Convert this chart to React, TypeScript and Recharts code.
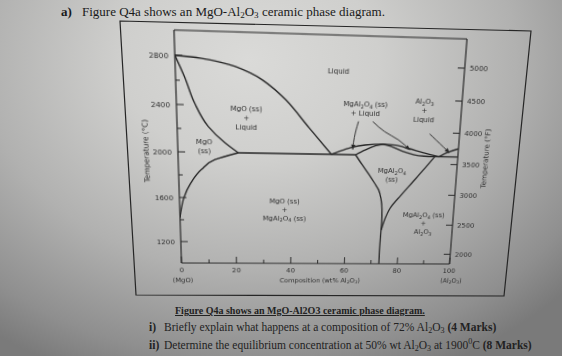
import React from 'react';
import { ComposedChart, Line, Scatter, XAxis, YAxis } from 'recharts';

type P = { x: number; y: number };

// ---------- axis values ----------
const compTicks = [0, 10, 20, 30, 40, 50, 60, 70, 80, 90, 100];
const compLabels = [0, 20, 40, 60, 80, 100];
const molTicks = [21.9, 38.7, 52.0, 62.8, 71.7, 79.1, 85.5, 91.0, 95.8];
const tempCTicks = [1200, 1400, 1600, 1800, 2000, 2200, 2400, 2600, 2800];
const tempCLabels = [1200, 1600, 2000, 2400, 2800];
const tempFTicks = [2000, 2500, 3000, 3500, 4000, 4500, 5000];

// ---------- phase boundaries (wt% Al2O3, °C) ----------
const mgoLiquidus: P[] = [
  { x: 0, y: 2800 }, { x: 8.9, y: 2782 }, { x: 20.3, y: 2722 }, { x: 29.5, y: 2619 },
  { x: 37.6, y: 2458 }, { x: 46, y: 2223 }, { x: 54, y: 2000 },
];
const mgoSolidus: P[] = [
  { x: 0, y: 2800 }, { x: 3, y: 2631 }, { x: 6.2, y: 2415 }, { x: 10.7, y: 2221 },
  { x: 16.5, y: 2082 }, { x: 21, y: 2000 },
];
const mgoSolvus: P[] = [
  { x: 21, y: 2000 }, { x: 12.8, y: 1937 }, { x: 8, y: 1849 }, { x: 4.2, y: 1731 },
  { x: 1.6, y: 1599 }, { x: 0.3, y: 1464 }, { x: 0, y: 1420 },
];
const leftEutectic: P[] = [{ x: 21, y: 2000 }, { x: 62.7, y: 2000 }];
const spinelLiquidus: P[] = [
  { x: 54, y: 2000 }, { x: 58, y: 2038 }, { x: 61.5, y: 2066 }, { x: 66, y: 2087 },
  { x: 72.5, y: 2097 }, { x: 77, y: 2090 }, { x: 81.8, y: 2063 }, { x: 87, y: 2030 },
  { x: 93, y: 1995 },
];
const spinelSolidus: P[] = [
  { x: 62.7, y: 2000 }, { x: 66, y: 2042 }, { x: 69.5, y: 2080 }, { x: 72.5, y: 2096 },
  { x: 76, y: 2072 }, { x: 80.5, y: 2032 }, { x: 84, y: 2008 }, { x: 87.5, y: 1998 },
  { x: 91.5, y: 1995 },
];
const rightEutectic: P[] = [{ x: 91.5, y: 1995 }, { x: 100, y: 1995 }];
const aluminaLiquidus: P[] = [{ x: 93, y: 1995 }, { x: 96.3, y: 2036 }, { x: 100, y: 2068 }];
const spinelLeftSolvus: P[] = [
  { x: 62.7, y: 2000 }, { x: 65, y: 1920 }, { x: 67.9, y: 1825 }, { x: 70, y: 1750 },
  { x: 71.6, y: 1690 }, { x: 72.7, y: 1600 }, { x: 73.2, y: 1510 }, { x: 73.3, y: 1400 },
  { x: 73.1, y: 1230 }, { x: 73, y: 1000 },
];
const spinelRightSolvus: P[] = [
  { x: 91.5, y: 1995 }, { x: 87.5, y: 1870 }, { x: 84, y: 1765 }, { x: 80, y: 1645 },
  { x: 76.2, y: 1524 }, { x: 74.4, y: 1420 }, { x: 73.3, y: 1320 },
];

// ---------- annotation arrows ----------
const arrow1: P[] = [{ x: 63.3, y: 2290 }, { x: 62.4, y: 2200 }, { x: 61.8, y: 2110 }, { x: 61.6, y: 2045 }];
const arrow2: P[] = [{ x: 68.4, y: 2291 }, { x: 72.8, y: 2206 }, { x: 77.9, y: 2137 }, { x: 82.3, y: 2050 }];
const arrow3: P[] = [{ x: 89.1, y: 2194 }, { x: 91.6, y: 2141 }, { x: 94.5, y: 2080 }, { x: 96.8, y: 2030 }];

// ---------- region labels ----------
const regionLabels = [
  { x: 55.7, y: 2710, lines: ['Liquid'] },
  { x: 23.9, y: 2300, lines: ['MgO (ss)', '+', 'Liquid'] },
  { x: 9.2, y: 2055, lines: ['MgO', '(ss)'] },
  { x: 65.6, y: 2398, lines: ['MgAl_2O_4 (ss)', '+ Liquid'] },
  { x: 86.6, y: 2395, lines: ['Al_2O_3', '+', 'Liquid'] },
  { x: 76.2, y: 1825, lines: ['MgAl_2O_4', '(ss)'] },
  { x: 37.5, y: 1505, lines: ['MgO (ss)', '+', 'MgAl_2O_4 (ss)'] },
  { x: 88.9, y: 1385, lines: ['MgAl_2O_4 (ss)', '+', 'Al_2O_3'] },
];

// ---------- layout ----------
const W = 562, H = 356;
const PL = 177, PR = 458, PT = 34, PB = 264;
const PW = PR - PL, PH = PB - PT;
const T_MIN = 1000, T_MAX = 3000;
const INK = '#262626';
const TXT = '#2d2d2d';
const FONT = '"DejaVu Sans", "Liberation Sans", sans-serif';
const SERIF = '"Liberation Serif", "DejaVu Serif", serif';

function solveHomography(src: number[][], dst: number[][]) {
  const A: number[][] = [];
  const b: number[] = [];
  for (let i = 0; i < 4; i++) {
    const [x, y] = src[i];
    const [u, v] = dst[i];
    A.push([x, y, 1, 0, 0, 0, -x * u, -y * u]); b.push(u);
    A.push([0, 0, 0, x, y, 1, -x * v, -y * v]); b.push(v);
  }
  const n = 8;
  for (let c = 0; c < n; c++) {
    let p = c;
    for (let r = c + 1; r < n; r++) if (Math.abs(A[r][c]) > Math.abs(A[p][c])) p = r;
    [A[c], A[p]] = [A[p], A[c]];
    [b[c], b[p]] = [b[p], b[c]];
    for (let r = 0; r < n; r++) {
      if (r === c) continue;
      const f = A[r][c] / A[c][c];
      for (let k = c; k < n; k++) A[r][k] -= f * A[c][k];
      b[r] -= f * b[c];
    }
  }
  return b.map((v, i) => v / A[i][i]);
}

const h = solveHomography(
  [[PL, PT], [PR, PT], [PR, PB], [PL, PB]],
  [[174, 30], [467, 39], [449.5, 264], [181.5, 263]],
);
const MATRIX = `matrix3d(${h[0]},${h[3]},0,${h[6]},${h[1]},${h[4]},0,${h[7]},0,0,1,0,${h[2]},${h[5]},0,1)`;

function Chem({ text, x, y, fs, anchor = 'middle' }: { text: string; x: number; y: number; fs: number; anchor?: string }) {
  const parts = text.split(/(_\d)/).filter(Boolean);
  let shifted = false;
  const spans: React.ReactNode[] = [];
  parts.forEach((p, i) => {
    if (p.startsWith('_')) {
      spans.push(<tspan key={i} dy={fs * 0.32} fontSize={fs * 0.72}>{p.slice(1)}</tspan>);
      shifted = true;
    } else {
      spans.push(<tspan key={i} dy={shifted ? -fs * 0.32 : 0}>{p}</tspan>);
      shifted = false;
    }
  });
  return (
    <text x={x} y={y} textAnchor={anchor as any} dominantBaseline="central" fontSize={fs} fontFamily={FONT} fill={TXT}>
      {spans}
    </text>
  );
}

const RegionLabel = (props: any) => {
  const { cx, cy, payload } = props;
  const lines: string[] = payload.lines;
  const lh = 9;
  const start = cy - ((lines.length - 1) * lh) / 2;
  return (
    <g>
      {lines.map((l, i) => (
        <Chem key={i} text={l} x={cx} y={start + i * lh} fs={7} />
      ))}
    </g>
  );
};

const LeftTick = (props: any) => {
  const { x, y, payload } = props;
  const v = payload.value;
  const major = tempCLabels.includes(v);
  return (
    <g>
      <line x1={x} y1={y} x2={x + (major ? 7 : 4)} y2={y} stroke={INK} strokeWidth={1} />
      {major && (
        <text x={x - 6} y={y} textAnchor="end" dominantBaseline="central" fontSize={7.2} fontFamily={FONT} fill={TXT}>
          {v}
        </text>
      )}
    </g>
  );
};

const RightTick = (props: any) => {
  const { x, y, payload } = props;
  return (
    <g>
      <line x1={x} y1={y} x2={x - 7} y2={y} stroke={INK} strokeWidth={1} />
      <text x={x + 5} y={y} textAnchor="start" dominantBaseline="central" fontSize={7.2} fontFamily={FONT} fill={TXT}>
        {payload.value}
      </text>
    </g>
  );
};

const BottomTick = (props: any) => {
  const { x, y, payload } = props;
  const v = payload.value;
  const major = compLabels.includes(v);
  return (
    <g>
      <line x1={x} y1={y} x2={x} y2={y - (major ? 7 : 4)} stroke={INK} strokeWidth={1} />
      {major && (
        <text x={x} y={y + 7} textAnchor="middle" dominantBaseline="central" fontSize={7.2} fontFamily={FONT} fill={TXT}>
          {v}
        </text>
      )}
      {v === 0 && <Chem text="(MgO)" x={x + 1} y={y + 18.5} fs={6.8} />}
      {v === 100 && <Chem text="(Al_2O_3)" x={x + 3} y={y + 18.5} fs={6.8} />}
    </g>
  );
};

const TopTick = (props: any) => {
  const { x, y } = props;
  return <line x1={x} y1={y} x2={x} y2={y + 6} stroke={INK} strokeWidth={1} />;
};

const LeftTitle = () => (
  <text
    x={PL - 31}
    y={PT + PH / 2}
    transform={`rotate(-90 ${PL - 31} ${PT + PH / 2})`}
    textAnchor="middle"
    dominantBaseline="central"
    fontSize={7.2}
    fontFamily={FONT}
    fill={TXT}
  >
    Temperature (°C)
  </text>
);

const RightTitle = () => (
  <text
    x={PR + 29}
    y={PT + PH / 2 + 2}
    transform={`rotate(-90 ${PR + 29} ${PT + PH / 2 + 2})`}
    textAnchor="middle"
    dominantBaseline="central"
    fontSize={7.2}
    fontFamily={FONT}
    fill={TXT}
  >
    Temperature (°F)
  </text>
);

const BottomTitle = () => <Chem text="Composition (wt% Al_2O_3)" x={(PL + PR) / 2 + 3} y={PB + 18.5} fs={6.8} />;

function arrowDot(data: P[]) {
  return (p: any) => {
    if (p.index !== data.length - 1) return <g key={`d${p.index}`} />;
    const prev = data[data.length - 2];
    const last = data[data.length - 1];
    const dx = ((last.x - prev.x) * PW) / 100;
    const dy = (-(last.y - prev.y) * PH) / (T_MAX - T_MIN);
    const a = Math.atan2(dy, dx);
    const L = 5, Wd = 2.2;
    const bx = p.cx - L * Math.cos(a), by = p.cy - L * Math.sin(a);
    const nx = -Math.sin(a) * Wd, ny = Math.cos(a) * Wd;
    return (
      <polygon
        key={`d${p.index}`}
        points={`${p.cx},${p.cy} ${bx + nx},${by + ny} ${bx - nx},${by - ny}`}
        fill={INK}
        stroke="none"
      />
    );
  };
}

const curves: { data: P[]; type: any }[] = [
  { data: mgoLiquidus, type: 'monotoneX' },
  { data: mgoSolidus, type: 'monotoneY' },
  { data: mgoSolvus, type: 'monotoneY' },
  { data: leftEutectic, type: 'linear' },
  { data: spinelLiquidus, type: 'monotoneX' },
  { data: spinelSolidus, type: 'monotoneX' },
  { data: rightEutectic, type: 'linear' },
  { data: aluminaLiquidus, type: 'monotoneX' },
  { data: spinelLeftSolvus, type: 'monotoneY' },
  { data: spinelRightSolvus, type: 'monotoneY' },
];
const arrows = [arrow1, arrow2, arrow3];

const sub = { fontSize: '0.7em', verticalAlign: '-0.25em', lineHeight: 0 } as React.CSSProperties;

export default function App() {
  return (
    <div
      style={{
        position: 'absolute',
        left: 0,
        top: 0,
        width: W,
        height: H,
        overflow: 'hidden',
        background:
          'radial-gradient(ellipse 430px 340px at 250px 60px, #dadad8 0%, #cfcfcd 30%, #b1b1b0 62%, #8f8f8f 88%, #7a7a7a 100%)',
      }}
    >
      <svg width={W} height={H} style={{ position: 'absolute', left: 0, top: 0 }}>
        <polygon points="120,21 531,31 504,296 136,295" fill="none" stroke={INK} strokeWidth={1.2} />
      </svg>

      <div style={{ position: 'absolute', left: 61, top: 4, fontFamily: SERIF, fontSize: 13, fontWeight: 700, color: '#1a1a1a', whiteSpace: 'nowrap', lineHeight: '16px' }}>
        a)
      </div>
      <div style={{ position: 'absolute', left: 82, top: 4, fontFamily: SERIF, fontSize: 13, color: '#1a1a1a', whiteSpace: 'nowrap', lineHeight: '16px' }}>
        Figure Q4a shows an MgO-Al<span style={sub}>2</span>O<span style={sub}>3</span> ceramic phase diagram.
      </div>

      <div style={{ position: 'absolute', left: 175, top: 304, fontFamily: SERIF, fontSize: 10, fontWeight: 700, color: '#222', whiteSpace: 'nowrap', lineHeight: '14px', textDecoration: 'underline' }}>
        Figure Q4a shows an MgO-Al2O3 ceramic phase diagram.
      </div>
      <div style={{ position: 'absolute', left: 149, top: 320, fontFamily: SERIF, fontSize: 11.5, fontWeight: 700, color: '#222', whiteSpace: 'nowrap', lineHeight: '14px' }}>
        i)
      </div>
      <div style={{ position: 'absolute', left: 164, top: 320, fontFamily: SERIF, fontSize: 11.5, color: '#222', whiteSpace: 'nowrap', lineHeight: '14px' }}>
        Briefly explain what happens at a composition of 72% Al<span style={sub}>2</span>O<span style={sub}>3</span> <b>(4 Marks)</b>
      </div>
      <div style={{ position: 'absolute', left: 149, top: 338, fontFamily: SERIF, fontSize: 11.5, fontWeight: 700, color: '#222', whiteSpace: 'nowrap', lineHeight: '14px' }}>
        ii)
      </div>
      <div style={{ position: 'absolute', left: 164, top: 338, fontFamily: SERIF, fontSize: 11.5, color: '#222', whiteSpace: 'nowrap', lineHeight: '14px' }}>
        Determine the equilibrium concentration at 50% wt Al<span style={sub}>2</span>O<span style={sub}>3</span> at 1900<sup style={{ fontSize: '0.7em', lineHeight: 0 }}>0</sup>C <b>(8 Marks)</b>
      </div>

      <div style={{ position: 'absolute', left: 0, top: 0, width: W, height: H, transformOrigin: '0 0', transform: MATRIX }}>
        <ComposedChart width={W} height={H} margin={{ top: PT - 10, right: W - PR - 50, bottom: H - PB - 30, left: PL - 50 }}>
          <XAxis
            xAxisId="b"
            type="number"
            dataKey="x"
            domain={[0, 100]}
            allowDataOverflow
            ticks={compTicks}
            interval={0}
            height={30}
            tickSize={0}
            tickMargin={0}
            tickLine={false}
            axisLine={{ stroke: INK, strokeWidth: 1.2 }}
            tick={(p: any) => <BottomTick {...p} />}
            label={<BottomTitle />}
          />
          <XAxis
            xAxisId="t"
            orientation="top"
            type="number"
            domain={[0, 100]}
            allowDataOverflow
            ticks={molTicks}
            interval={0}
            height={10}
            tickSize={0}
            tickMargin={0}
            tickLine={false}
            axisLine={{ stroke: INK, strokeWidth: 1.2 }}
            tick={(p: any) => <TopTick {...p} />}
          />
          <YAxis
            yAxisId="c"
            type="number"
            domain={[T_MIN, T_MAX]}
            allowDataOverflow
            ticks={tempCTicks}
            interval={0}
            width={50}
            tickSize={0}
            tickMargin={0}
            tickLine={false}
            axisLine={{ stroke: INK, strokeWidth: 1.2 }}
            tick={(p: any) => <LeftTick {...p} />}
            label={<LeftTitle />}
          />
          <YAxis
            yAxisId="f"
            orientation="right"
            type="number"
            domain={[T_MIN * 1.8 + 32, T_MAX * 1.8 + 32]}
            allowDataOverflow
            ticks={tempFTicks}
            interval={0}
            width={50}
            tickSize={0}
            tickMargin={0}
            tickLine={false}
            axisLine={{ stroke: INK, strokeWidth: 1.2 }}
            tick={(p: any) => <RightTick {...p} />}
            label={<RightTitle />}
          />
          {curves.map((c, i) => (
            <Line
              key={`c${i}`}
              xAxisId="b"
              yAxisId="c"
              data={c.data}
              dataKey="y"
              type={c.type}
              stroke={INK}
              strokeWidth={1.35}
              dot={false}
              activeDot={false}
              isAnimationActive={false}
            />
          ))}
          {arrows.map((a, i) => (
            <Line
              key={`a${i}`}
              xAxisId="b"
              yAxisId="c"
              data={a}
              dataKey="y"
              type="natural"
              stroke={INK}
              strokeWidth={0.9}
              dot={arrowDot(a)}
              activeDot={false}
              isAnimationActive={false}
            />
          ))}
          <Scatter
            xAxisId="b"
            yAxisId="c"
            data={regionLabels}
            dataKey="y"
            isAnimationActive={false}
            shape={(p: any) => <RegionLabel {...p} />}
          />
        </ComposedChart>
      </div>
    </div>
  );
}
